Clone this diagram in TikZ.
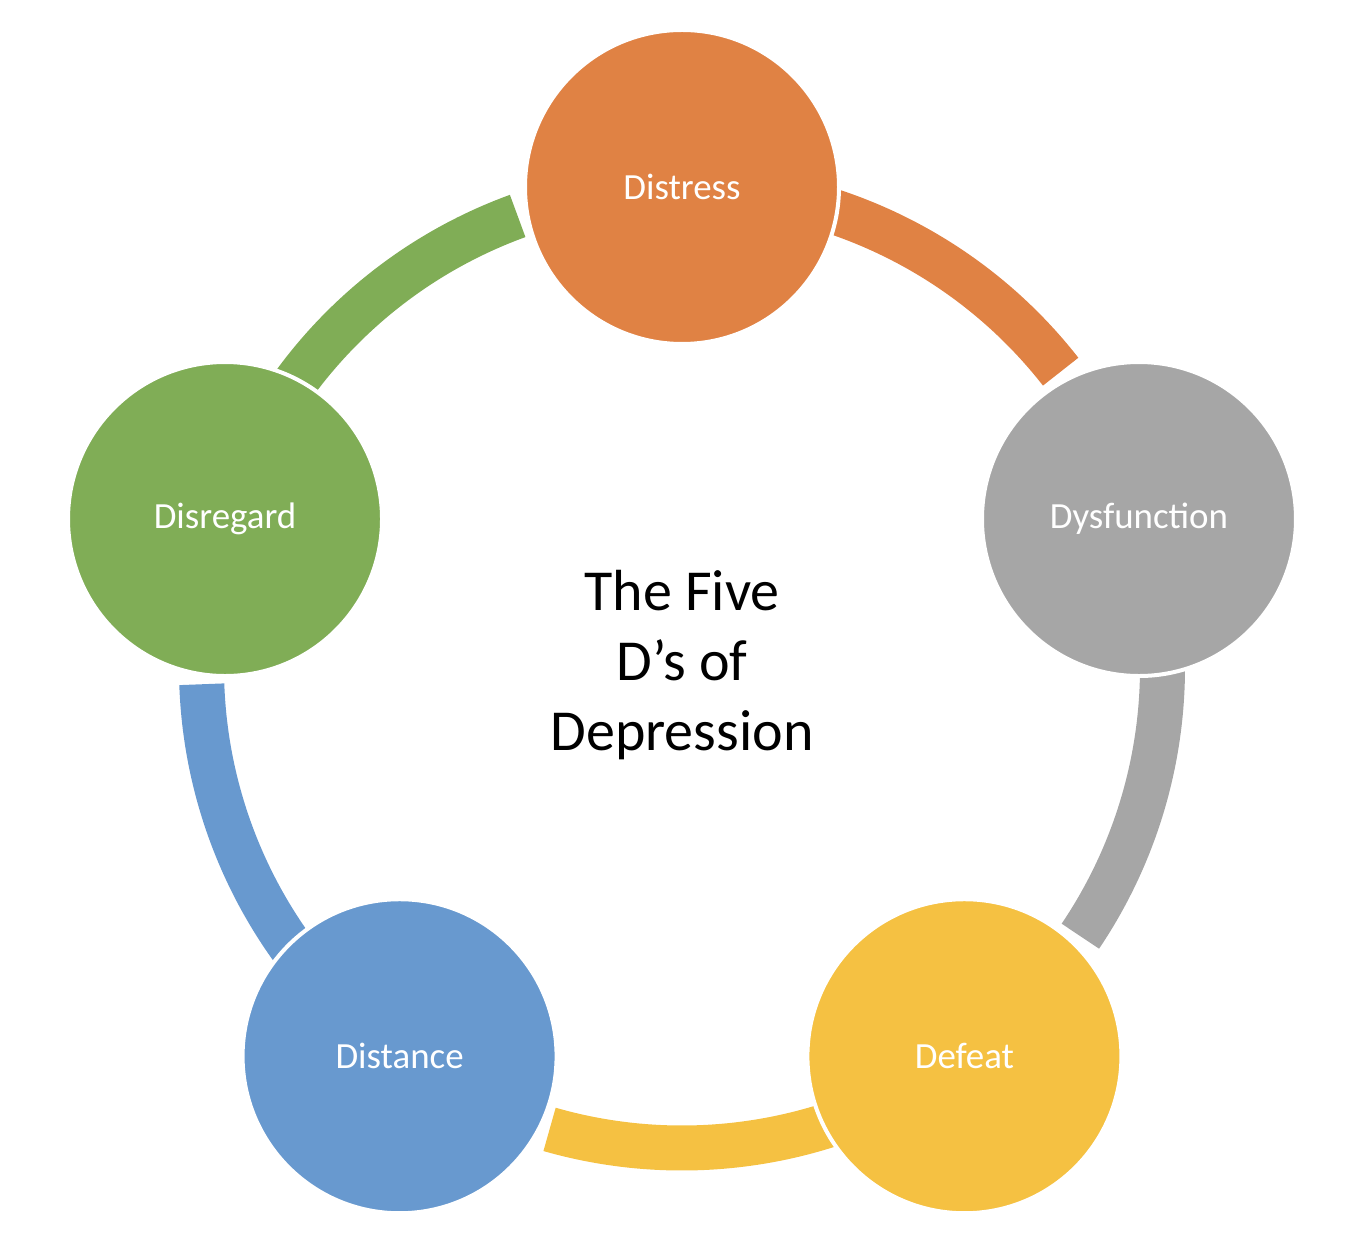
\documentclass[tikz,border=0pt]{standalone}
\usetikzlibrary{calc}
\usepackage{fontspec}
\setmainfont{Carlito}
\definecolor{corange}{HTML}{E08244}
\definecolor{cgray}{HTML}{A6A6A6}
\definecolor{cyellow}{HTML}{F5C142}
\definecolor{cblue}{HTML}{6899CF}
\definecolor{cgreen}{HTML}{80AD56}
\begin{document}
\begin{tikzpicture}
\useasboundingbox (0,0) rectangle (27.36,25.16);
\coordinate (c) at (13.64,11.81);
\tikzset{ringarc/.style={line width=0.9cm},
  dball/.style={circle,minimum size=6.28cm,inner sep=0pt,draw=white,line width=0.08cm,text=white,font=\fontsize{21}{25}\selectfont}}
\def\R{9.61}
\foreach \a/\b/\col in {90/38/corange,18/-34/cgray,-54/-106/cyellow,-126/-178/cblue,162/110/cgreen}{
  \draw[ringarc,\col] ($(c)+(\a:\R)$) arc[start angle=\a,end angle=\b,radius=\R];
}
\node[dball,fill=corange] (n1) at ($(c)+(90:\R)$) {Distress};
\node[dball,fill=cgray] (n2) at ($(c)+(18:\R)$) {Dysfunction};
\node[dball,fill=cyellow] (n3) at ($(c)+(-54:\R)$) {Defeat};
\node[dball,fill=cblue] (n4) at ($(c)+(-126:\R)$) {Distance};
\node[dball,fill=cgreen] (n5) at ($(c)+(162:\R)$) {Disregard};
\node[align=center,font=\fontsize{33}{40}\selectfont] (t) at (13.64,11.86) {The Five\\D's of\\Depression};
\end{tikzpicture}
\end{document}
